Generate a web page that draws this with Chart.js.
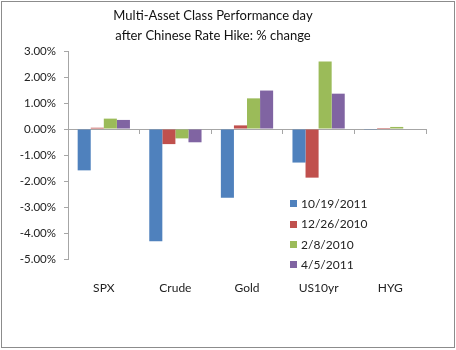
<!DOCTYPE html>
<html><head><meta charset="utf-8">
<script src="https://cdn.jsdelivr.net/npm/chart.js@4/dist/chart.umd.min.js"></script>
<style>
html,body{margin:0;padding:0;background:#fff;}
#wrap{position:relative;width:456px;height:350px;}
#frame{position:absolute;left:1px;top:1px;width:452px;height:345px;border:1px solid #8c8c8c;pointer-events:none;}
#legend{position:absolute;left:290px;top:194px;font-family:Lato,"Open Sans",sans-serif;font-size:12px;color:#222;}
#legend div{height:20.3px;line-height:20px;white-space:nowrap;}
#legend span{display:inline-block;width:7px;height:7px;margin-right:4px;vertical-align:middle;position:relative;top:-1px;}
</style></head>
<body>
<div id="wrap">
<canvas id="c" width="456" height="350"></canvas>
<div id="legend"></div>
<div id="frame"></div>
</div>
<script>
const categories = ["SPX", "Crude", "Gold", "US10yr", "HYG"];
const seriesNames = ["10/19/2011", "12/26/2010", "2/8/2010", "4/5/2011"];
const s1 = [-1.59, -4.32, -2.64, -1.29, -0.03];
const s2 = [0.05, -0.58, 0.14, -1.87, 0.04];
const s3 = [0.40, -0.36, 1.18, 2.60, 0.08];
const s4 = [0.35, -0.51, 1.48, 1.36, 0.02];
const colors = ["#4F81BD", "#C0504D", "#9BBB59", "#8064A2"];
const titleLines = ["Multi-Asset Class Performance day", "after Chinese Rate Hike: % change"];

const FONT = 'Lato, "Open Sans", sans-serif';
const series = [s1, s2, s3, s4];
const datasets = series.map((d, i) => ({
  label: seriesNames[i], data: d, backgroundColor: colors[i], borderWidth: 0,
  categoryPercentage: 0.73, barPercentage: 1.0, xAxisID: 'x'
}));

new Chart(document.getElementById('c'), {
  type: 'bar',
  data: { labels: categories, datasets },
  options: {
    responsive: false, animation: false,
    layout: { padding: { left: 0, right: 30, top: 0, bottom: 0 } },
    plugins: {
      legend: { display: false },
      tooltip: { enabled: false },
      title: { display: true, text: titleLines, color: '#111',
        font: { family: FONT, size: 13, weight: 'normal', lineHeight: 1.54 },
        padding: { top: 6, bottom: 5 } }
    },
    scales: {
      x: {
        type: 'category', position: 'bottom', offset: true,
        grid: { display: false, offset: true },
        border: { display: false },
        ticks: { color: '#222', padding: 14, font: { family: FONT, size: 12 }, maxRotation: 0 },
        afterFit: s => { s.height = 91; }
      },
      x2: {
        type: 'category', labels: categories, position: { y: 0 }, offset: true,
        grid: { offset: true, drawOnChartArea: false, tickLength: 4, color: '#a6a6a6' },
        border: { display: true, color: '#a6a6a6' },
        ticks: { display: false }
      },
      y: {
        min: -5, max: 3,
        grid: { drawOnChartArea: false, tickLength: 4, color: '#a6a6a6' },
        border: { display: true, color: '#a6a6a6' },
        ticks: { stepSize: 1, padding: 8, color: '#222', font: { family: FONT, size: 11.5 },
          callback: v => v.toFixed(2) + '%' },
        afterFit: s => { s.width = 68; }
      }
    }
  }
});

const lg = document.getElementById('legend');
seriesNames.forEach((n, i) => {
  const d = document.createElement('div');
  d.innerHTML = '<span style="background:' + colors[i] + '"></span>' + n;
  lg.appendChild(d);
});
</script>
</body></html>
